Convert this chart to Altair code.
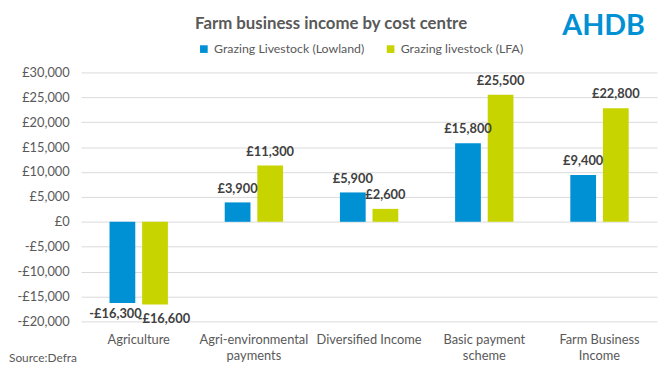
import altair as alt
import pandas as pd

categories = ["Agriculture", "Agri-environmental|payments", "Diversified Income",
              "Basic payment|scheme", "Farm Business|Income"]
series = ["Grazing Livestock (Lowland)", "Grazing livestock (LFA)"]
lowland = [-16300, 3900, 5900, 15800, 9400]
lfa = [-16600, 11300, 2600, 25500, 22800]
colors = ["#0090D4", "#C8D400"]

rows = []
for c, a, b in zip(categories, lowland, lfa):
    rows.append({"cat": c, "series": series[0], "v": a})
    rows.append({"cat": c, "series": series[1], "v": b})
df = pd.DataFrame(rows)

FONT = "Lato"
GREY = "#595959"

x = alt.X("cat:N", sort=categories, title=None,
          scale=alt.Scale(paddingInner=0.434, paddingOuter=0.217),
          axis=alt.Axis(labelExpr="split(datum.label, '|')", labelAngle=0,
                        labelFontSize=13, labelColor=GREY, labelFont=FONT,
                        ticks=False, domain=False, labelPadding=12,
                        labelLineHeight=17, grid=False))
xo = alt.XOffset("series:N", sort=series,
                 scale=alt.Scale(paddingInner=0.21, paddingOuter=0.105))
y = alt.Y("v:Q", title=None,
          scale=alt.Scale(domain=[-20000, 30000], nice=False),
          axis=alt.Axis(values=list(range(-20000, 30001, 5000)),
                        labelExpr="datum.value < 0 ? '-£' + format(-datum.value, ',') : '£' + format(datum.value, ',')",
                        labelFontSize=13, labelColor=GREY, labelFont=FONT,
                        ticks=False, domain=False, labelPadding=12,
                        gridColor="#D9D9D9", gridWidth=1))

base = alt.Chart(df)

bars = base.mark_bar().encode(
    x=x, xOffset=xo, y=y,
    color=alt.Color("series:N", sort=series,
                    scale=alt.Scale(domain=series, range=colors),
                    legend=alt.Legend(title=None, orient="none", direction="horizontal",
                                      legendX=118, legendY=-30, symbolType="square",
                                      symbolSize=60, symbolStrokeWidth=0,
                                      labelFontSize=12.5, labelColor=GREY, labelFont=FONT,
                                      columnPadding=20, symbolOffset=0, labelOffset=4)),
)

lab = base.transform_calculate(
    lab="(datum.v < 0 ? '-£' : '£') + format(abs(datum.v), ',')"
)
pos_text = lab.transform_filter("datum.v >= 0").mark_text(
    fontWeight="bold", fontSize=13, font=FONT, color="#404040", dy=-14
).encode(x=x, xOffset=xo, y=y, text="lab:N")
neg1 = lab.transform_filter(f"datum.v < 0 && datum.series == '{series[0]}'").mark_text(
    fontWeight="bold", fontSize=13, font=FONT, color="#404040", dy=11, dx=-7
).encode(x=x, xOffset=xo, y=y, text="lab:N")
neg2 = lab.transform_filter(f"datum.v < 0 && datum.series == '{series[1]}'").mark_text(
    fontWeight="bold", fontSize=13, font=FONT, color="#404040", dy=15, dx=9
).encode(x=x, xOffset=xo, y=y, text="lab:N")

source = alt.Chart(pd.DataFrame({"t": ["Source:Defra"]})).mark_text(
    align="left", baseline="middle", fontSize=12, font=FONT, color=GREY
).encode(x=alt.value(-73), y=alt.value(289), text="t:N")

title = alt.Chart(pd.DataFrame({"t": ["Farm business income by cost centre"]})).mark_text(
    align="center", baseline="middle", fontSize=17, fontWeight="bold", font=FONT, color=GREY
).encode(x=alt.value(253), y=alt.value(-49), text="t:N")

logo = alt.Chart(pd.DataFrame({"t": ["AHDB"]})).mark_text(
    align="left", baseline="middle", fontSize=29, fontWeight="bold", font=FONT, color="#0090D4"
).encode(x=alt.value(487), y=alt.value(-47), text="t:N")

chart = alt.layer(bars, pos_text, neg1, neg2, source, title, logo).properties(
    width=583, height=252,
    padding={"left": 74, "top": 63, "right": 7, "bottom": 50},
    autosize=alt.AutoSizeParams(type="none"),
).configure_view(stroke=None)

chart.save("out.html", embed_options={"renderer": "svg", "actions": False})
